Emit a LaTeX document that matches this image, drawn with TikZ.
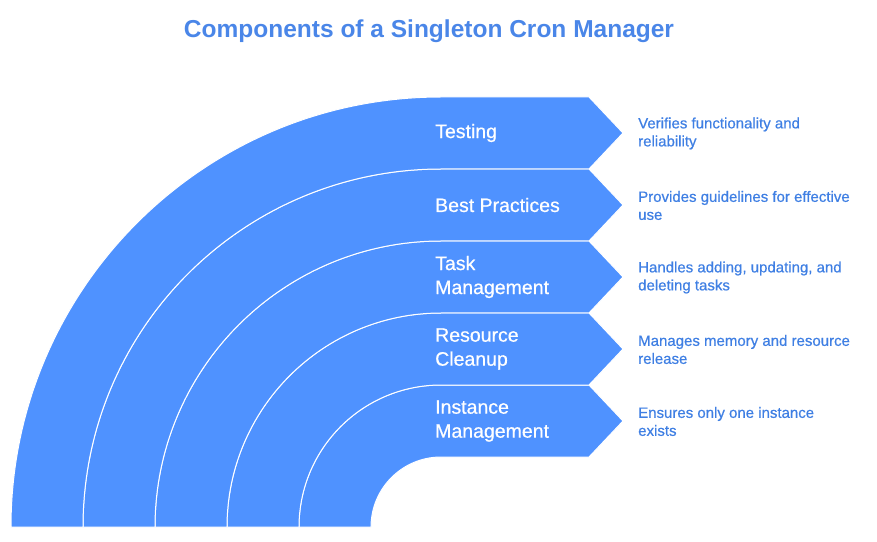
\documentclass[tikz,border=0pt]{standalone}
\usepackage{fontspec}
\setmainfont{Liberation Sans}
\newfontfamily\medfont{Liberation Sans}[FakeBold=0.6]
\definecolor{bandblue}{HTML}{4F92FF}
\definecolor{titleblue}{HTML}{4A86E8}
\definecolor{descblue}{HTML}{3F7FE3}
\tikzset{
  band/.style={fill=bandblue, draw=white, line width=1pt, line join=miter},
  lab/.style={anchor=west, inner sep=0pt, align=left, text=white, font=\medfont\fontsize{19.5}{24}\selectfont},
  desc/.style={anchor=west, inner sep=0pt, align=left, text=descblue, font=\medfont\fontsize{15}{18}\selectfont},
  ttl/.style={inner sep=0pt, text=titleblue, font=\fontsize{24.5}{28}\selectfont\bfseries}
}
\begin{document}
\begin{tikzpicture}[x=1pt,y=1pt]
\useasboundingbox (0,0) rectangle (877,541);
\node[ttl] (title) at (429,510) {Components of a Singleton Cron Manager};
\foreach \i/\lab/\desc in {
  0/{Instance\\Management}/{Ensures only one instance\\exists},
  1/{Resource\\Cleanup}/{Manages memory and resource\\release},
  2/{Task\\Management}/{Handles adding, updating, and\\deleting tasks},
  3/{Best Practices}/{Provides guidelines for effective\\use},
  4/{Testing}/{Verifies functionality and\\reliability}} {
  \pgfmathsetmacro\ri{70+72*\i}
  \pgfmathsetmacro\ro{\ri+72}
  \pgfmathsetmacro\ym{14+\ri+36}
  \draw[band] (441-\ro,14) arc[start angle=180,end angle=90,radius=\ro]
     -- (589,14+\ro) -- (623,\ym) -- (589,14+\ri) -- (441,14+\ri)
     arc[start angle=90,end angle=180,radius=\ri] -- cycle;
  \node[lab] (lab\i) at (435,\ym) {\lab};
  \node[desc] (desc\i) at (638,\ym-0.5) {\desc};
}
\end{tikzpicture}
\end{document}
